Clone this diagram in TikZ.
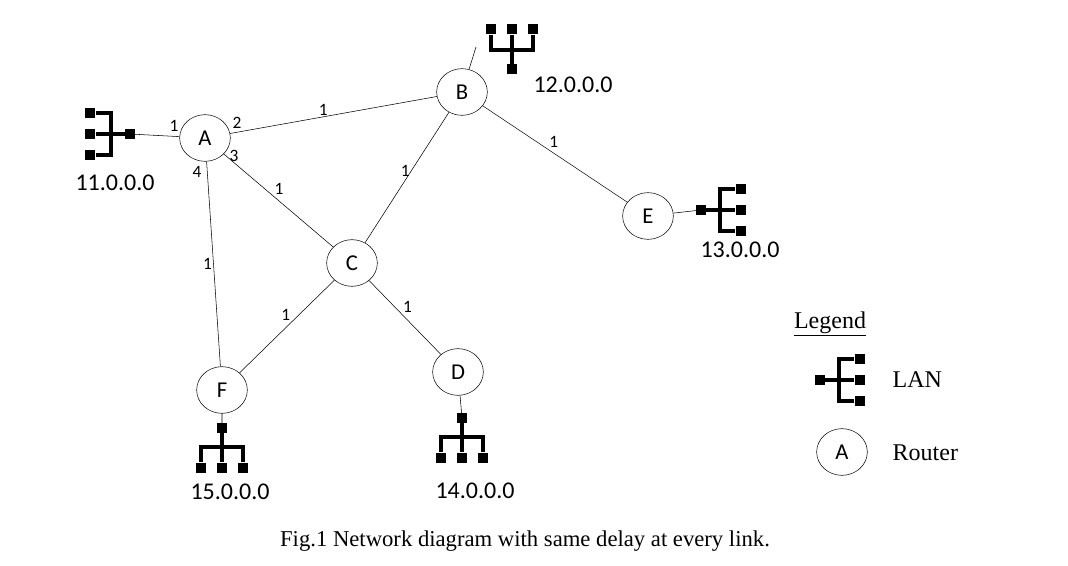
\documentclass[tikz,border=0pt]{standalone}
\usepackage{fontspec}
\setmainfont{Carlito}
\newfontfamily\capfont{Liberation Serif}
\usetikzlibrary{positioning,shapes.geometric}
\tikzset{router/.style={ellipse, draw=black, minimum width=38pt, minimum height=35pt, inner sep=0pt, font=\fontsize{17}{17}\selectfont},
cost/.style={font=\fontsize{13}{13}\selectfont, inner sep=1pt},
ip/.style={font=\fontsize{18}{18}\selectfont},
sq/.style={fill=black, minimum size=7.5pt, inner sep=0pt, outer sep=0pt},
%one LAN icon, drawn pointing down from its access square
lan/.pic={
	\node[sq] (-port) at (0,0) {};
	\draw[line width=2.4pt] (0,5) -- (0,19) (-21,34) -- (-21,19) -- (21,19) -- (21,34) (0,19) -- (0,34);
	\node[sq] at (-21,40) {};
	\node[sq] at (0,40) {};
	\node[sq] at (21,40) {};
}}

\begin{document}
\begin{tikzpicture}[x=0.75pt,y=-0.75pt]
		\useasboundingbox (0,0) rectangle (1068,566);

		\node[router] (A) at (205,138) {A};
		\node[router] (B) at (462,92) {B};
		\node[router] (C) at (352,263) {C};
		\node[router] (D) at (458,372) {D};
		\node[router] (E) at (648,216) {E};
		\node[router] (F) at (222,390) {F};

		\pic (lanA) at (130,134) [rotate=-90] {lan};
		\pic (lanB) at (512,69) [rotate=180] {lan};
		\pic (lanD) at (462,418) {lan};
		\pic (lanE) at (701,210) [rotate=90] {lan};
		\pic (lanF) at (222,428) {lan};
		\coordinate (Bstub) at (476,47);

		\draw
		(A) -- node[cost, above, pos=0.45] {1} (B)
		(B) -- node[cost, above right, pos=0.45] {1} (E)
		(A) -- node[cost, above right, pos=0.45] {1} (C)
		(B) -- node[cost, left, pos=0.45] {1} (C)
		(A) -- node[cost, left, pos=0.5] {1} (F)
		(C) -- node[cost, above left, pos=0.45] {1} (F)
		(C) -- node[cost, above right, pos=0.45] {1} (D)
		(lanA-port) -- (A)
		(B) -- (Bstub)
		(lanE-port) -- (E)
		(F) -- (lanF-port)
		(D) -- (lanD-port)
		;

		\node[cost] (p1) at (174,126) {1};
		\node[cost] (p2) at (237,123) {2};
		\node[cost] (p3) at (234,156) {3};
		\node[cost] (p4) at (197,172) {4};

		\node[ip] (ipA) at (115,183) {11.0.0.0};
		\node[ip] (ipB) at (573,85) {12.0.0.0};
		\node[ip] (ipE) at (740,250) {13.0.0.0};
		\node[ip] (ipD) at (475,491) {14.0.0.0};
		\node[ip] (ipF) at (230,492) {15.0.0.0};

		% legend
		\node[font=\capfont\fontsize{18}{18}\selectfont] (legend) at (830,324) {\underline{Legend}};
		\pic (lanL) at (820,380) [rotate=90] {lan};
		\node[font=\capfont\fontsize{18}{18}\selectfont, anchor=west] (lanlbl) at (888,380) {LAN};
		\node[router] (RL) at (842,452) {A};
		\node[font=\capfont\fontsize{18}{18}\selectfont, anchor=west] (rlbl) at (888,453) {Router};

		\node[font=\capfont\fontsize{17}{17}\selectfont] (cap) at (525,541) {Fig.1 Network diagram with same delay at every link.};
	\end{tikzpicture}
\end{document}
